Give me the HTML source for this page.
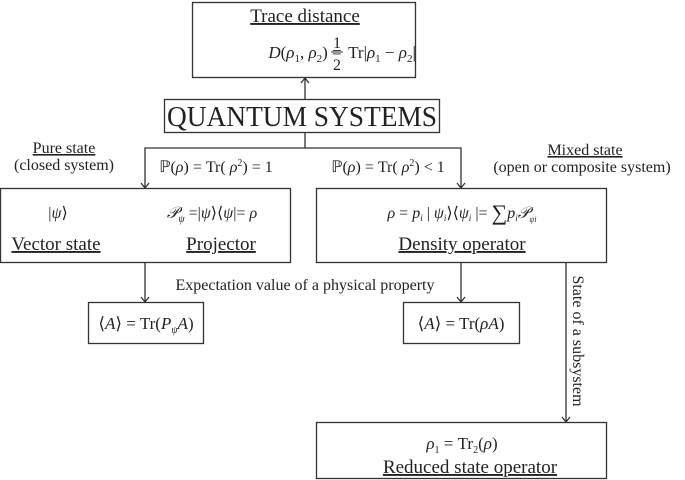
<!DOCTYPE html>
<html><head><meta charset="utf-8"><style>
html,body{margin:0;padding:0;background:#fff;}
svg{display:block;font-family:"Liberation Serif",serif;}
text{fill:#222;}
.it{font-style:italic;}
</style></head><body>
<svg width="685" height="480" viewBox="0 0 685 480" xmlns="http://www.w3.org/2000/svg">
<g fill="none" stroke="#333" stroke-width="1.3">
<rect x="192.5" y="2.5" width="223" height="75"/>
<rect x="164.5" y="99.5" width="275" height="33"/>
<rect x="0.5" y="188.5" width="290" height="74"/>
<rect x="316.5" y="188.5" width="290" height="74"/>
<rect x="88.5" y="302.5" width="115" height="41"/>
<rect x="403.5" y="302.5" width="116" height="41"/>
<rect x="316.5" y="422.5" width="290" height="56"/>
<path d="M305 99V78M301 83L305 78L309 83"/>
<path d="M305 133V148M145 188V148H461V188M141 183L145 188L149 183M457 183L461 188L465 183"/>
<path d="M145 263V302M141 297L145 302L149 297"/>
<path d="M461 263V302M457 297L461 302L465 297"/>
<path d="M566 263V422M562 417L566 422L570 417"/>
</g>
<g font-size="19" text-anchor="middle">
<text x="305" y="22" text-decoration="underline">Trace distance</text>
<text x="305" y="58" font-size="17"><tspan class="it">D</tspan>(<tspan class="it">ρ</tspan><tspan font-size="11" dy="4">1</tspan><tspan dy="-4">, </tspan><tspan class="it">ρ</tspan><tspan font-size="11" dy="4">2</tspan><tspan dy="-4">) = </tspan></text>
<text x="337" y="48" font-size="16">1</text>
<line x1="331" y1="52" x2="343" y2="52" stroke="#333" stroke-width="1"/>
<text x="337" y="70" font-size="16">2</text>
<text x="382" y="58" font-size="17">Tr|<tspan class="it">ρ</tspan><tspan font-size="11" dy="4">1</tspan><tspan dy="-4"> − </tspan><tspan class="it">ρ</tspan><tspan font-size="11" dy="4">2</tspan><tspan dy="-4">|</tspan></text>
<text x="302" y="126" font-size="29" textLength="270" lengthAdjust="spacingAndGlyphs">QUANTUM SYSTEMS</text>
<text x="64" y="153" font-size="16" text-decoration="underline">Pure state</text>
<text x="64" y="170" font-size="16">(closed system)</text>
<text x="585" y="155" font-size="16" text-decoration="underline">Mixed state</text>
<text x="582" y="172" font-size="16">(open or composite system)</text>
<text x="216" y="172" font-size="16">ℙ(<tspan class="it">ρ</tspan>) = Tr( <tspan class="it">ρ</tspan><tspan font-size="10" dy="-6">2</tspan><tspan dy="6">) = 1</tspan></text>
<text x="388" y="172" font-size="16">ℙ(<tspan class="it">ρ</tspan>) = Tr( <tspan class="it">ρ</tspan><tspan font-size="10" dy="-6">2</tspan><tspan dy="6">) &lt; 1</tspan></text>
<text x="58" y="218" font-size="16">|<tspan class="it">ψ</tspan>⟩</text>
<text x="212" y="218" font-size="16"><tspan class="it">𝒫</tspan><tspan font-size="10" dy="4" class="it">ψ</tspan><tspan dy="-4"> =|</tspan><tspan class="it">ψ</tspan>⟩⟨<tspan class="it">ψ</tspan>|= <tspan class="it">ρ</tspan></text>
<text x="56" y="250" text-decoration="underline">Vector state</text>
<text x="221" y="250" text-decoration="underline">Projector</text>
<text x="462" y="218" font-size="16"><tspan class="it">ρ</tspan> = <tspan class="it">p</tspan><tspan font-size="9" dy="3" class="it">i</tspan><tspan dy="-3"> | </tspan><tspan class="it">ψ</tspan><tspan font-size="9" dy="3" class="it">i</tspan><tspan dy="-3">⟩⟨</tspan><tspan class="it">ψ</tspan><tspan font-size="9" dy="3" class="it">i</tspan><tspan dy="-3"> |= </tspan><tspan font-size="22" dy="2">∑</tspan><tspan dy="-2" class="it">p</tspan><tspan font-size="9" dy="3" class="it">i</tspan><tspan dy="-3" class="it">𝒫</tspan><tspan font-size="8" dy="4" class="it">ψi</tspan></text>
<text x="462" y="250" text-decoration="underline">Density operator</text>
<text x="305" y="290" font-size="16">Expectation value of a physical property</text>
<text x="146" y="329" font-size="17">⟨<tspan class="it">A</tspan>⟩ = Tr(<tspan class="it">P</tspan><tspan font-size="10" dy="4" class="it">ψ</tspan><tspan dy="-4" class="it">A</tspan>)</text>
<text x="461" y="329" font-size="17">⟨<tspan class="it">A</tspan>⟩ = Tr(<tspan class="it">ρA</tspan>)</text>
<text x="462" y="449" font-size="17"><tspan class="it">ρ</tspan><tspan font-size="10" dy="4">1</tspan><tspan dy="-4"> = Tr</tspan><tspan font-size="10" dy="4">2</tspan><tspan dy="-4">(</tspan><tspan class="it">ρ</tspan>)</text>
<text x="470" y="473" text-decoration="underline">Reduced state operator</text>
<text transform="translate(573,341) rotate(90)" font-size="16">State of a subsystem</text>
</g>
</svg>
</body></html>
